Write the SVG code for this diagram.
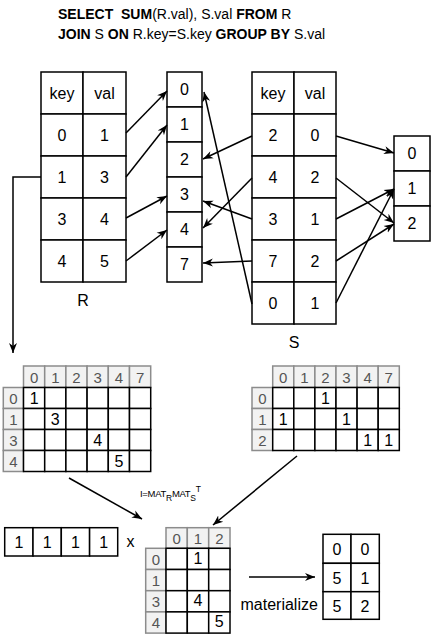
<svg xmlns="http://www.w3.org/2000/svg" width="432" height="638" viewBox="0 0 432 638">
<defs>
<style>
text{font-family:"Liberation Sans",Arial,sans-serif;fill:#000}
.t{font-size:16px;text-anchor:middle}
.m{font-size:16px;text-anchor:middle}
.h{font-size:15px;text-anchor:middle;fill:#555}
.b{font-weight:bold}
.c{fill:#fff;stroke:#000;stroke-width:1.5}
.g{fill:#f2f2f2;stroke:#8c8c8c;stroke-width:1.5}
.e{fill:none;stroke:#000;stroke-width:1.5}
</style>
<marker id="a" markerWidth="11" markerHeight="10" refX="10" refY="5" orient="auto" markerUnits="userSpaceOnUse"><path d="M0,1 L10,5 L0,9 L3,5 z" fill="#000"/></marker>
</defs>
<rect width="432" height="638" fill="#fff"/>

<g id="query">
<text x="58" y="19" font-size="14"><tspan class="b">SELECT&#160; SUM</tspan>(R.val), S.val <tspan class="b">FROM</tspan> R</text>
<text x="58" y="39" font-size="14"><tspan class="b">JOIN</tspan> S <tspan class="b">ON</tspan> R.key=S.key <tspan class="b">GROUP BY</tspan> S.val</text>
</g>

<g id="tableR">
<rect class="c" x="41" y="72" width="42" height="42"/><rect class="c" x="83" y="72" width="43" height="42"/>
<rect class="c" x="41" y="114" width="42" height="42"/><rect class="c" x="83" y="114" width="43" height="42"/>
<rect class="c" x="41" y="156" width="42" height="42"/><rect class="c" x="83" y="156" width="43" height="42"/>
<rect class="c" x="41" y="198" width="42" height="42"/><rect class="c" x="83" y="198" width="43" height="42"/>
<rect class="c" x="41" y="240" width="42" height="42"/><rect class="c" x="83" y="240" width="43" height="42"/>
<text class="t" x="62" y="99">key</text><text class="t" x="104.5" y="99">val</text>
<text class="t" x="62" y="141">0</text><text class="t" x="104.5" y="141">1</text>
<text class="t" x="62" y="183">1</text><text class="t" x="104.5" y="183">3</text>
<text class="t" x="62" y="225">3</text><text class="t" x="104.5" y="225">4</text>
<text class="t" x="62" y="267">4</text><text class="t" x="104.5" y="267">5</text>
<text class="t" x="83" y="306">R</text>
</g>

<g id="keys">
<rect class="c" x="167" y="72" width="35" height="35"/>
<rect class="c" x="167" y="107" width="35" height="35"/>
<rect class="c" x="167" y="142" width="35" height="35"/>
<rect class="c" x="167" y="177" width="35" height="35"/>
<rect class="c" x="167" y="212" width="35" height="35"/>
<rect class="c" x="167" y="247" width="35" height="35"/>
<text class="t" x="184.5" y="95">0</text>
<text class="t" x="184.5" y="130">1</text>
<text class="t" x="184.5" y="165">2</text>
<text class="t" x="184.5" y="200">3</text>
<text class="t" x="184.5" y="235">4</text>
<text class="t" x="184.5" y="270">7</text>
</g>

<g id="tableS">
<rect class="c" x="252" y="72" width="42" height="42"/><rect class="c" x="294" y="72" width="42" height="42"/>
<rect class="c" x="252" y="114" width="42" height="42"/><rect class="c" x="294" y="114" width="42" height="42"/>
<rect class="c" x="252" y="156" width="42" height="42"/><rect class="c" x="294" y="156" width="42" height="42"/>
<rect class="c" x="252" y="198" width="42" height="42"/><rect class="c" x="294" y="198" width="42" height="42"/>
<rect class="c" x="252" y="240" width="42" height="42"/><rect class="c" x="294" y="240" width="42" height="42"/>
<rect class="c" x="252" y="282" width="42" height="42"/><rect class="c" x="294" y="282" width="42" height="42"/>
<text class="t" x="273" y="99">key</text><text class="t" x="315" y="99">val</text>
<text class="t" x="273" y="141">2</text><text class="t" x="315" y="141">0</text>
<text class="t" x="273" y="183">4</text><text class="t" x="315" y="183">2</text>
<text class="t" x="273" y="225">3</text><text class="t" x="315" y="225">1</text>
<text class="t" x="273" y="267">7</text><text class="t" x="315" y="267">2</text>
<text class="t" x="273" y="309">0</text><text class="t" x="315" y="309">1</text>
<text class="t" x="294" y="348">S</text>
</g>

<g id="groups">
<rect class="c" x="394" y="136" width="36" height="35"/>
<rect class="c" x="394" y="171" width="36" height="35"/>
<rect class="c" x="394" y="206" width="36" height="35"/>
<text class="t" x="412" y="159">0</text>
<text class="t" x="412" y="194">1</text>
<text class="t" x="412" y="229">2</text>
</g>

<g id="matR">
<rect class="g" x="23.5" y="366" width="21.2" height="21.5"/><rect class="g" x="44.7" y="366" width="21.2" height="21.5"/><rect class="g" x="65.9" y="366" width="21.2" height="21.5"/><rect class="g" x="87.1" y="366" width="21.2" height="21.5"/><rect class="g" x="108.3" y="366" width="21.2" height="21.5"/><rect class="g" x="129.5" y="366" width="21.2" height="21.5"/>
<rect class="g" x="3.3" y="387.5" width="20.2" height="21"/><rect class="g" x="3.3" y="408.5" width="20.2" height="21"/><rect class="g" x="3.3" y="429.5" width="20.2" height="21"/><rect class="g" x="3.3" y="450.5" width="20.2" height="21"/>
<g class="c">
<rect x="23.5" y="387.5" width="21.2" height="21"/><rect x="44.7" y="387.5" width="21.2" height="21"/><rect x="65.9" y="387.5" width="21.2" height="21"/><rect x="87.1" y="387.5" width="21.2" height="21"/><rect x="108.3" y="387.5" width="21.2" height="21"/><rect x="129.5" y="387.5" width="21.2" height="21"/>
<rect x="23.5" y="408.5" width="21.2" height="21"/><rect x="44.7" y="408.5" width="21.2" height="21"/><rect x="65.9" y="408.5" width="21.2" height="21"/><rect x="87.1" y="408.5" width="21.2" height="21"/><rect x="108.3" y="408.5" width="21.2" height="21"/><rect x="129.5" y="408.5" width="21.2" height="21"/>
<rect x="23.5" y="429.5" width="21.2" height="21"/><rect x="44.7" y="429.5" width="21.2" height="21"/><rect x="65.9" y="429.5" width="21.2" height="21"/><rect x="87.1" y="429.5" width="21.2" height="21"/><rect x="108.3" y="429.5" width="21.2" height="21"/><rect x="129.5" y="429.5" width="21.2" height="21"/>
<rect x="23.5" y="450.5" width="21.2" height="21"/><rect x="44.7" y="450.5" width="21.2" height="21"/><rect x="65.9" y="450.5" width="21.2" height="21"/><rect x="87.1" y="450.5" width="21.2" height="21"/><rect x="108.3" y="450.5" width="21.2" height="21"/><rect x="129.5" y="450.5" width="21.2" height="21"/>
</g>
<text class="h" x="34.1" y="382.5">0</text><text class="h" x="55.3" y="382.5">1</text><text class="h" x="76.5" y="382.5">2</text><text class="h" x="97.7" y="382.5">3</text><text class="h" x="118.9" y="382.5">4</text><text class="h" x="140.1" y="382.5">7</text>
<text class="h" x="13.4" y="404">0</text><text class="h" x="13.4" y="425">1</text><text class="h" x="13.4" y="446">3</text><text class="h" x="13.4" y="467">4</text>
<text class="m" x="34.1" y="403.5">1</text>
<text class="m" x="55.3" y="425">3</text>
<text class="m" x="97.7" y="446">4</text>
<text class="m" x="118.9" y="467">5</text>
</g>

<g id="matS">
<rect class="g" x="272.7" y="366" width="21.1" height="21.5"/><rect class="g" x="293.8" y="366" width="21.1" height="21.5"/><rect class="g" x="314.9" y="366" width="21.1" height="21.5"/><rect class="g" x="336" y="366" width="21.1" height="21.5"/><rect class="g" x="357.1" y="366" width="21.1" height="21.5"/><rect class="g" x="378.2" y="366" width="21.1" height="21.5"/>
<rect class="g" x="252" y="387.5" width="20.7" height="21"/><rect class="g" x="252" y="408.5" width="20.7" height="21"/><rect class="g" x="252" y="429.5" width="20.7" height="21"/>
<g class="c">
<rect x="272.7" y="387.5" width="21.1" height="21"/><rect x="293.8" y="387.5" width="21.1" height="21"/><rect x="314.9" y="387.5" width="21.1" height="21"/><rect x="336" y="387.5" width="21.1" height="21"/><rect x="357.1" y="387.5" width="21.1" height="21"/><rect x="378.2" y="387.5" width="21.1" height="21"/>
<rect x="272.7" y="408.5" width="21.1" height="21"/><rect x="293.8" y="408.5" width="21.1" height="21"/><rect x="314.9" y="408.5" width="21.1" height="21"/><rect x="336" y="408.5" width="21.1" height="21"/><rect x="357.1" y="408.5" width="21.1" height="21"/><rect x="378.2" y="408.5" width="21.1" height="21"/>
<rect x="272.7" y="429.5" width="21.1" height="21"/><rect x="293.8" y="429.5" width="21.1" height="21"/><rect x="314.9" y="429.5" width="21.1" height="21"/><rect x="336" y="429.5" width="21.1" height="21"/><rect x="357.1" y="429.5" width="21.1" height="21"/><rect x="378.2" y="429.5" width="21.1" height="21"/>
</g>
<text class="h" x="283.2" y="382.5">0</text><text class="h" x="304.3" y="382.5">1</text><text class="h" x="325.4" y="382.5">2</text><text class="h" x="346.5" y="382.5">3</text><text class="h" x="367.6" y="382.5">4</text><text class="h" x="388.7" y="382.5">7</text>
<text class="h" x="262.3" y="404">0</text><text class="h" x="262.3" y="425">1</text><text class="h" x="262.3" y="446">2</text>
<text class="m" x="325.4" y="403.5">1</text>
<text class="m" x="283.2" y="424.5">1</text><text class="m" x="346.5" y="424.5">1</text>
<text class="m" x="367.6" y="445.5">1</text><text class="m" x="388.7" y="445.5">1</text>
</g>

<g id="label">
<text x="140" y="497" font-size="9.5" letter-spacing="-0.3">I=MAT<tspan dy="3.5" font-size="8.5">R</tspan><tspan dy="-3.5">MAT</tspan><tspan dy="3.5" font-size="8.5">S</tspan><tspan dy="-9" font-size="8.5">T</tspan></text>
</g>

<g id="vector">
<rect class="c" x="4.7" y="527.7" width="28.3" height="28.3"/><rect class="c" x="33" y="527.7" width="28.3" height="28.3"/><rect class="c" x="61.3" y="527.7" width="28.3" height="28.3"/><rect class="c" x="89.6" y="527.7" width="28.1" height="28.3"/>
<text class="t" x="18.9" y="547.5">1</text><text class="t" x="47.2" y="547.5">1</text><text class="t" x="75.5" y="547.5">1</text><text class="t" x="103.7" y="547.5">1</text>
</g>
<g id="times"><text class="t" x="130.5" y="547">x</text></g>

<g id="matI">
<rect class="g" x="166" y="527.7" width="21.3" height="20.6"/><rect class="g" x="187.3" y="527.7" width="21.4" height="20.6"/><rect class="g" x="208.7" y="527.7" width="21.3" height="20.6"/>
<rect class="g" x="145.7" y="548.3" width="20.3" height="21.2"/><rect class="g" x="145.7" y="569.5" width="20.3" height="21.2"/><rect class="g" x="145.7" y="590.7" width="20.3" height="21.2"/><rect class="g" x="145.7" y="611.9" width="20.3" height="21.2"/>
<g class="c">
<rect x="166" y="548.3" width="21.3" height="21.2"/><rect x="187.3" y="548.3" width="21.4" height="21.2"/><rect x="208.7" y="548.3" width="21.3" height="21.2"/>
<rect x="166" y="569.5" width="21.3" height="21.2"/><rect x="187.3" y="569.5" width="21.4" height="21.2"/><rect x="208.7" y="569.5" width="21.3" height="21.2"/>
<rect x="166" y="590.7" width="21.3" height="21.2"/><rect x="187.3" y="590.7" width="21.4" height="21.2"/><rect x="208.7" y="590.7" width="21.3" height="21.2"/>
<rect x="166" y="611.9" width="21.3" height="21.2"/><rect x="187.3" y="611.9" width="21.4" height="21.2"/><rect x="208.7" y="611.9" width="21.3" height="21.2"/>
</g>
<text class="h" x="176.6" y="543.5">0</text><text class="h" x="198" y="543.5">1</text><text class="h" x="219.3" y="543.5">2</text>
<text class="h" x="155.8" y="564.5">0</text><text class="h" x="155.8" y="585.5">1</text><text class="h" x="155.8" y="606.5">3</text><text class="h" x="155.8" y="628">4</text>
<text class="m" x="198" y="563.5">1</text>
<text class="m" x="198" y="605.5">4</text>
<text class="m" x="219.3" y="627">5</text>
</g>

<g id="materialize"><text x="240.5" y="609.5" font-size="16">materialize</text></g>

<g id="result">
<rect class="c" x="323" y="534.3" width="28" height="29"/><rect class="c" x="351" y="534.3" width="28.3" height="29"/>
<rect class="c" x="323" y="563.3" width="28" height="28.4"/><rect class="c" x="351" y="563.3" width="28.3" height="28.4"/>
<rect class="c" x="323" y="591.7" width="28" height="27.6"/><rect class="c" x="351" y="591.7" width="28.3" height="27.6"/>
<text class="t" x="337" y="555">0</text><text class="t" x="365" y="555">0</text>
<text class="t" x="337" y="583.5">5</text><text class="t" x="365" y="583.5">1</text>
<text class="t" x="337" y="611.5">5</text><text class="t" x="365" y="611.5">2</text>
</g>

<g id="connectors" class="e" marker-end="url(#a)">
<line x1="126" y1="133" x2="167" y2="91"/>
<line x1="126" y1="177" x2="167" y2="125"/>
<line x1="126" y1="218" x2="167" y2="196"/>
<line x1="126" y1="261" x2="167" y2="230"/>
<line x1="252" y1="136" x2="203" y2="159"/>
<line x1="252" y1="178" x2="203" y2="228"/>
<line x1="252" y1="219" x2="203" y2="201"/>
<line x1="252" y1="261" x2="203" y2="263"/>
<line x1="252" y1="304" x2="204" y2="92"/>
<line x1="336" y1="136" x2="394" y2="153"/>
<line x1="336" y1="178" x2="394" y2="223"/>
<line x1="336" y1="219" x2="394" y2="189"/>
<line x1="336" y1="261" x2="394" y2="224"/>
<line x1="336" y1="303" x2="394" y2="189"/>
<polyline points="41,177 13,177 13,353"/>
<line x1="69" y1="478" x2="142" y2="519"/>
<line x1="297" y1="456" x2="213" y2="525"/>
<line x1="249" y1="577" x2="315" y2="577"/>
</g>
</svg>
